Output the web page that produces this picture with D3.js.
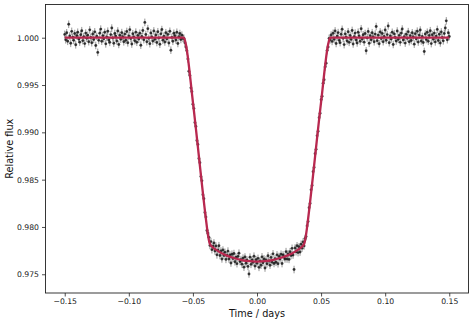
<!DOCTYPE html>
<html><head><meta charset="utf-8">
<script src="https://cdn.jsdelivr.net/npm/d3@7"></script>
<style>
body{margin:0;background:#fff}
svg{display:block}
text{font-family:"DejaVu Sans",sans-serif}
</style>
</head><body>
<svg id="c" width="474" height="324"></svg>
<script>
// Observation window (days) – evenly spaced cadence
const timeStart = -0.15, timeEnd = 0.15;

// Relative flux values (one per exposure)
const fluxBefore = [
1.00035,0.99978,1.00052,0.99962,1.00142,1.00018,0.99941,1.00067,1.00005,0.99972,
1.00044,0.99925,1.00021,1.00058,0.99987,0.99953,1.00031,1.00074,0.99969,1.00012,
0.99938,1.00049,0.99994,1.00026,0.99958,1.00083,1.00003,0.99947,1.00039,0.99981,
1.00062,0.99918,1.00015,0.99845,0.99972,1.00048,1.00091,0.99963,1.00022,0.99989,
1.00057,0.99935,1.00008,1.00069,0.99976,0.99951,1.00033,1.00102,0.99998,0.99942,
1.00045,1.00017,0.99966,1.00071,0.99929,1.00026,0.99984,1.00054,1.00011,0.99957,
1.00038,0.99973,1.00066,0.99946,1.00019,1.00085,0.99991,0.99933,1.00042,1.00007,
0.99968,1.00059,0.99952,1.00024,0.99986,1.00047,0.99921,1.00013,1.00076,0.99979,
1.00162,1.00034,0.99958,1.00096,0.99994,0.99937,1.00051,1.00009,0.99964,1.00072,
0.99983,1.00028,0.99949,1.00063,0.99997,0.99931,1.00041,1.00086,0.99974,1.00016,
0.99955,1.00053,0.99988,1.00035,0.99944,1.00068,0.99868,1.00004,0.99962,1.00047,
1.00021,0.99976,1.00058,0.99939,1.00012,1.00044,0.99981,1.00027,0.99993];
const fluxIngress = [
0.99995,0.99948,0.99902,0.99861,0.99776,0.99645,0.99601,0.99470,0.99429,0.99298,
0.99251,0.99104,0.99062,0.98915,0.98871,0.98724,0.98679,0.98532,0.98487,0.98341,
0.98298,0.98153,0.98104,0.97962,0.97935];
const fluxBottom = [
0.97890,0.97805,0.97845,0.97760,0.97796,0.97831,0.97746,0.97798,0.97705,0.97755,
0.97802,0.97698,0.97746,0.97662,0.97756,0.97698,0.97732,0.97657,0.97702,0.97745,
0.97661,0.97703,0.97619,0.97712,0.97667,0.97719,0.97632,0.97680,0.97612,0.97689,
0.97723,0.97635,0.97655,0.97607,0.97671,0.97575,0.97682,0.97617,0.97651,0.97583,
0.97503,0.97681,0.97605,0.97652,0.97626,0.97691,0.97587,0.97654,0.97616,0.97668,
0.97573,0.97642,0.97596,0.97684,0.97622,0.97663,0.97566,0.97652,0.97611,0.97695,
0.97640,0.97596,0.97678,0.97628,0.97716,0.97614,0.97664,0.97627,0.97705,0.97611,
0.97688,0.97661,0.97712,0.97613,0.97705,0.97683,0.97662,0.97739,0.97661,0.97716,
0.97657,0.97738,0.97698,0.97774,0.97703,0.97550,0.97777,0.97738,0.97801,0.97729,
0.97790,0.97735,0.97817,0.97776,0.97841,0.97800,0.97878];
const fluxEgress = [
0.97898,0.98011,0.98058,0.98203,0.98249,0.98392,0.98438,0.98583,0.98629,0.98774,
0.98820,0.98963,0.99011,0.99155,0.99202,0.99344,0.99381,0.99518,0.99556,0.99690,
0.99731,0.99864,0.99903,0.99993,0.99978];
const fluxAfter = [
1.00028,0.99961,1.00047,0.99984,1.00072,0.99939,1.00015,1.00054,0.99972,0.99948,
1.00036,1.00089,0.99993,0.99927,1.00041,1.00006,0.99965,1.00063,0.99951,1.00024,
0.99982,1.00077,0.99934,1.00012,1.00049,0.99976,0.99944,1.00058,1.00019,0.99962,
1.00095,0.99987,1.00031,0.99953,1.00044,0.99862,0.99998,1.00066,0.99941,1.00022,
0.99979,1.00053,1.00009,0.99957,1.00038,1.00118,0.99969,1.00027,0.99936,1.00061,
0.99991,1.00045,0.99958,1.00014,1.00082,0.99973,1.00033,1.00124,0.99947,1.00018,
0.99986,1.00057,0.99929,1.00041,1.00003,0.99964,1.00071,0.99982,1.00025,0.99951,
1.00048,1.00092,0.99977,1.00011,0.99943,1.00036,0.99995,1.00064,0.99958,1.00021,
0.99971,1.00052,1.00008,0.99932,1.00043,0.99989,1.00069,0.99954,1.00027,1.00081,
0.99966,1.00014,0.99949,0.99855,1.00039,0.99981,1.00058,0.99962,1.00023,1.00074,
0.99938,1.00032,0.99985,1.00049,0.99956,1.00017,1.00088,0.99971,1.00036,0.99944,
1.00061,1.00002,0.99967,1.00045,1.00103,1.00178,0.99979,1.00052,1.00013];
const fluxErr = 0.0004;

// Transit model curve
const modelTime = [-0.15,-0.0574,-0.0565,-0.0555,-0.05,-0.04,-0.039,-0.038,-0.0372,-0.0365,-0.035,-0.032,-0.028,-0.024,-0.018,-0.012,-0.006,0,
  0.006,0.012,0.018,0.024,0.028,0.032,0.035,0.0365,0.0372,0.038,0.039,0.04,0.05,0.0555,0.0565,0.0574,0.15];
const modelFlux = [1,1,0.99985,0.9993,0.9932,0.981,0.9799,0.97895,0.9784,0.97815,0.9779,0.9776,0.97725,0.977,0.97672,0.9765,0.97638,0.97633,
  0.97638,0.9765,0.97672,0.977,0.97725,0.9776,0.9779,0.97815,0.9784,0.97895,0.9799,0.981,0.9932,0.9993,0.99985,1,1];

const xTicks = [-0.15,-0.10,-0.05,0.00,0.05,0.10,0.15];
const yTicks = [0.975,0.980,0.985,0.990,0.995,1.000];

const flux = [].concat(fluxBefore, fluxIngress, fluxBottom, fluxEgress, fluxAfter);
const n = flux.length;
const data = flux.map((f,i)=>({t: timeStart + i*(timeEnd-timeStart)/(n-1), f}));

const L=45.5, R=468.5, T=4.5, B=293;
const svg = d3.select("#c");
const x = d3.scaleLinear().domain([-0.165,0.165]).range([L,R]);
const y = d3.scaleLinear().domain([0.97302,1.00351]).range([B,T]);

const gData = svg.append("g");
gData.selectAll("line.err").data(data).join("line")
  .attr("x1",d=>x(d.t)).attr("x2",d=>x(d.t))
  .attr("y1",d=>y(d.f-fluxErr)).attr("y2",d=>y(d.f+fluxErr))
  .attr("stroke","#000").attr("stroke-opacity",0.42).attr("stroke-width",1);
gData.selectAll("line.cap").data(data).join("line")
  .attr("x1",d=>x(d.t)-1).attr("x2",d=>x(d.t)+1)
  .attr("y1",d=>y(d.f)).attr("y2",d=>y(d.f))
  .attr("stroke","#000").attr("stroke-opacity",0.35).attr("stroke-width",0.8);
gData.selectAll("circle").data(data).join("circle")
  .attr("cx",d=>x(d.t)).attr("cy",d=>y(d.f)).attr("r",1.45)
  .attr("fill","#000").attr("fill-opacity",0.7);

const line = d3.line().x((d,i)=>x(modelTime[i])).y(d=>y(d)).curve(d3.curveMonotoneX);
svg.append("path").attr("d",line(modelFlux)).attr("fill","none")
  .attr("stroke","#b8284f").attr("stroke-width",2.3).attr("stroke-linejoin","round");

const fs = "7.7px";
const gx = svg.append("g").attr("transform",`translate(0,${B})`)
  .call(d3.axisBottom(x).tickValues(xTicks).tickFormat(d3.format(".2f")).tickSize(3.5).tickPadding(2.5));
const gy = svg.append("g").attr("transform",`translate(${L},0)`)
  .call(d3.axisLeft(y).tickValues(yTicks).tickFormat(d3.format(".3f")).tickSize(3.5).tickPadding(3));
[gx,gy].forEach(g=>{
  g.select(".domain").remove();
  g.selectAll("line").attr("stroke","#222").attr("stroke-width",0.8);
  g.selectAll("text").attr("font-size",fs).attr("fill","#222").attr("font-family","DejaVu Sans, sans-serif");
});
svg.append("rect").attr("x",L).attr("y",T).attr("width",R-L).attr("height",B-T)
  .attr("fill","none").attr("stroke","#222").attr("stroke-width",0.9);

svg.append("text").attr("x",(L+R)/2).attr("y",316.5).attr("text-anchor","middle")
  .attr("font-size","9.7px").attr("fill","#111").text("Time / days");
svg.append("text").attr("transform",`translate(13,${(T+B)/2}) rotate(-90)`).attr("text-anchor","middle")
  .attr("font-size","9.7px").attr("fill","#111").text("Relative flux");
</script>
</body></html>
